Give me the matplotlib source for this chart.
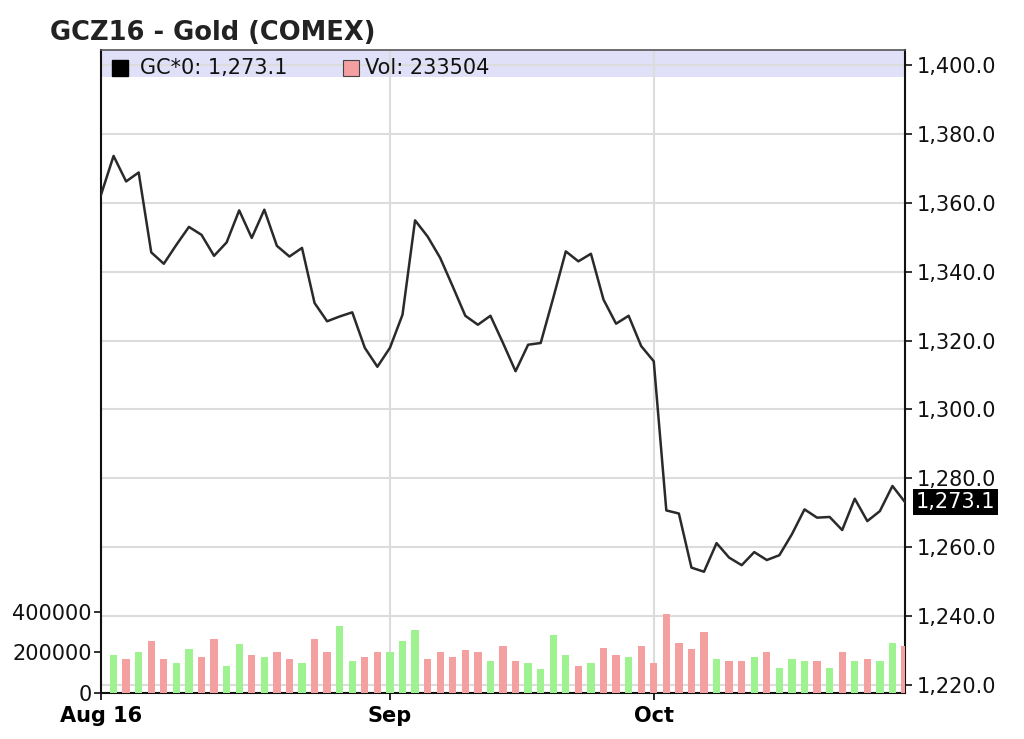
import numpy as np
import pandas as pd
import matplotlib
matplotlib.use("Agg")
import matplotlib.pyplot as plt
from matplotlib.patches import Rectangle
from matplotlib.ticker import FuncFormatter

# --- Daten: GCZ16 Gold (COMEX), Tagesschluss und Volumen ---
dates = pd.bdate_range("2016-08-01", "2016-10-31").drop(pd.Timestamp("2016-09-05"))

prices = [
    1362.3, 1373.6, 1366.2, 1368.8, 1345.6, 1342.3, 1347.8, 1353.0, 1350.7, 1344.6,
    1348.5, 1357.8, 1349.8, 1358.0, 1347.5, 1344.4, 1346.9, 1330.9, 1325.6, 1327.0,
    1328.2, 1317.9, 1312.4, 1317.9, 1327.5, 1354.9, 1350.2, 1344.0, 1335.7, 1327.2,
    1324.6, 1327.2, 1319.3, 1311.1, 1318.8, 1319.3, 1332.4, 1345.9, 1343.0, 1345.2,
    1331.9, 1324.9, 1327.2, 1318.4, 1314.0, 1270.7, 1269.8, 1254.1, 1252.9, 1261.2,
    1257.0, 1254.8, 1258.6, 1256.3, 1257.7, 1263.8, 1271.0, 1268.6, 1268.8, 1265.0,
    1274.1, 1267.6, 1270.5, 1277.8, 1273.1,
]

# Volumen ab 2. August (erster Tag hat keinen sichtbaren Balken)
volumes = [
    190000, 169000, 201000, 255000, 169000, 146000, 215000, 179000, 267000, 133000,
    244000, 190000, 177000, 201000, 169000, 146000, 267000, 201000, 333000, 158000,
    179000, 201000, 201000, 255000, 312000, 169000, 201000, 179000, 211000, 201000,
    158000, 231000, 158000, 146000, 120000, 288000, 190000, 133000, 146000, 223000,
    190000, 179000, 234000, 146000, 390000, 247000, 215000, 299000, 169000, 158000,
    158000, 179000, 201000, 125000, 169000, 158000, 158000, 125000, 201000, 158000,
    169000, 158000, 247000, 233504,
]

month_labels = ["Aug 16", "Sep", "Oct"]
price_ticks = [1220, 1240, 1260, 1280, 1300, 1320, 1340, 1360, 1380, 1400]
volume_ticks = [0, 200000, 400000]

# --- Plot ---
plt.rcParams["font.family"] = "DejaVu Sans"
fig = plt.figure(figsize=(10.24, 7.39), dpi=100)
ax = fig.add_axes([101 / 1024, 1 - 693 / 739, 804 / 1024, 643 / 739])
ax.set_axisbelow(True)
axv = ax.twinx()

x = np.arange(len(prices))
ax.plot(x, prices, color="#2a2a2a", linewidth=1.8, zorder=3)

ax.set_xlim(0, len(prices) - 1)
ax.set_ylim(1217.7, 1404.35)
ax.yaxis.tick_right()
ax.yaxis.set_label_position("right")
ax.set_yticks(price_ticks)
ax.yaxis.set_major_formatter(FuncFormatter(lambda v, p: f"{v:,.1f}"))
ax.tick_params(axis="y", labelsize=15, length=5, width=1.2, pad=3.5, colors="#111111")

# Monatsanfaenge als x-Ticks
month_pos = [i for i in range(len(dates)) if i == 0 or dates[i].month != dates[i - 1].month]
ax.set_xticks(month_pos)
ax.set_xticklabels(month_labels, fontsize=15, fontweight="bold")
ax.tick_params(axis="x", length=5, width=1.2, pad=4)
ax.grid(True, color="#dcdcdc", linewidth=1.5)

# Legendenband oben (unter dem Gitter)
ax.add_patch(Rectangle((0, 0.958), 1, 0.042, transform=ax.transAxes,
                       facecolor="#e0e0f8", edgecolor="none", zorder=0.3))

for side in ["left", "right", "bottom"]:
    ax.spines[side].set_color("#111111")
    ax.spines[side].set_linewidth(1.5)
ax.spines["top"].set_color("#555555")
ax.spines["top"].set_linewidth(1.2)

# Volumen auf linker Achse
vx = np.arange(1, len(prices))
up = np.diff(prices) >= 0
bar_colors = np.where(up, "#9ef290", "#f4a0a0")
axv.bar(vx, volumes, width=0.58, color=bar_colors, zorder=2)
axv.set_ylim(0, 3.175e6)
axv.yaxis.tick_left()
axv.yaxis.set_label_position("left")
axv.set_yticks(volume_ticks)
axv.set_yticklabels([str(v) for v in volume_ticks])
axv.tick_params(axis="y", labelsize=15, length=5, width=1.2, pad=1.5, colors="#111111")
for s in axv.spines.values():
    s.set_visible(False)

# Legende
ax.plot([0.0236], [0.972], marker="s", markersize=11, color="black",
        transform=ax.transAxes, clip_on=False, zorder=4)
ax.text(0.048, 0.972, f"GC*0: {prices[-1]:,.1f}", transform=ax.transAxes,
        fontsize=15, va="center", ha="left", color="#111111")
ax.plot([0.311], [0.972], marker="s", markersize=11, color="#f4a0a0",
        markeredgecolor="#444444", markeredgewidth=0.8,
        transform=ax.transAxes, clip_on=False, zorder=4)
ax.text(0.328, 0.972, f"Vol: {volumes[-1]}", transform=ax.transAxes,
        fontsize=15, va="center", ha="left", color="#111111")

# Letzter Kurs als schwarzes Label rechts
ax.text(1.0135, prices[-1], f"{prices[-1]:,.1f}", transform=ax.get_yaxis_transform(),
        fontsize=15, color="white", va="center", ha="left", clip_on=False,
        bbox=dict(boxstyle="square,pad=0.15", facecolor="black", edgecolor="none"))

fig.text(50 / 1024, 1 - 40 / 739, "GCZ16 - Gold (COMEX)", fontsize=18.5,
         fontweight="bold", color="#222222", va="baseline", ha="left")

fig.savefig("out.png", dpi=100, facecolor="white")
